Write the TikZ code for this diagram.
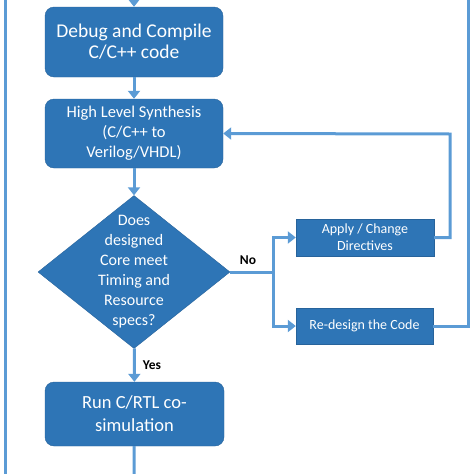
\documentclass[tikz,border=0pt]{standalone}
\usepackage{fontspec}
\setmainfont{Carlito}
\usetikzlibrary{shapes.geometric,arrows.meta}
\definecolor{boxblue}{HTML}{2E75B6}
\definecolor{lineblue}{HTML}{5B9BD5}
\begin{document}
\begin{tikzpicture}[x=1pt,y=-1pt,
	stepbox/.style={draw=boxblue!85!black,fill=boxblue,rounded corners=9pt,text=white,align=center,inner sep=0pt,minimum width=178pt},
	fixbox/.style={draw=boxblue!85!black,fill=boxblue,text=white,align=center,inner sep=0pt,minimum width=138pt,font=\fontsize{14}{17}\selectfont},
	decision/.style={diamond,draw=boxblue!85!black,fill=boxblue,inner sep=0pt,minimum width=192pt,minimum height=153pt},
	link/.style={draw=lineblue,line width=3pt},
	flow/.style={link,-{Triangle[length=8pt,width=12pt]}},
	tag/.style={font=\fontsize{13.5}{15}\selectfont\bfseries,text=black}]
	\useasboundingbox (0,0) rectangle (474,474);
	
	% main column
	\node[stepbox,minimum height=70pt,font=\fontsize{19.5}{21}\selectfont] (debug) at (134,42) {Debug and Compile\\C/C++ code};
	\node[stepbox,minimum height=69pt,font=\fontsize{16.5}{20}\selectfont] (hls) at (134,133.5) {High Level Synthesis\\(C/C++ to\\Verilog/VHDL)};
	\node[decision] (check) at (134,272) {};
	\node[text=white,align=center,inner sep=0pt,font=\fontsize{16}{20}\selectfont] (checktext) at (check) {Does\\designed\\Core meet\\Timing and\\Resource\\specs?};
	\node[stepbox,minimum height=64pt,minimum width=179pt,font=\fontsize{18.5}{23}\selectfont] (run) at (134.5,414) {Run C/RTL co-\\simulation};
	
	% fix boxes
	\node[fixbox,minimum height=37pt] (apply) at (365,237.5) {Apply / Change\\Directives};
	\node[fixbox,minimum height=36pt,minimum width=137pt] (redesign) at (364.5,326) {Re-design the Code};
	
	% helper points
	\coordinate (top) at (134,0);
	\coordinate (bottom) at (134,474);
	\coordinate (split) at (273,272);
	\coordinate (ret1) at (450,134);
	\coordinate (ret2) at (468,0);
	\coordinate (lefttop) at (5,0);
	\coordinate (leftbot) at (5,474);
	
	% connectors
	\draw[link] (lefttop)--(leftbot);
	\draw[flow] (top)--(debug);
	\draw[flow] (debug)--(hls);
	\draw[flow] (hls)--(check);
	\draw[flow] (check)--(run);
	\draw[link] (run)--(bottom);
	\draw[link] (check.east)--(split);
	\draw[flow] (split)|-(apply.west);
	\draw[flow] (split)|-(redesign.west);
	\draw[flow] (apply.east)-|(ret1)--(hls.east);
	\draw[link] (redesign.east)-|(ret2);
	
	\node[tag] (nolabel) at (248,260) {No};
	\node[tag] (yeslabel) at (152,365) {Yes};
\end{tikzpicture}
\end{document}
